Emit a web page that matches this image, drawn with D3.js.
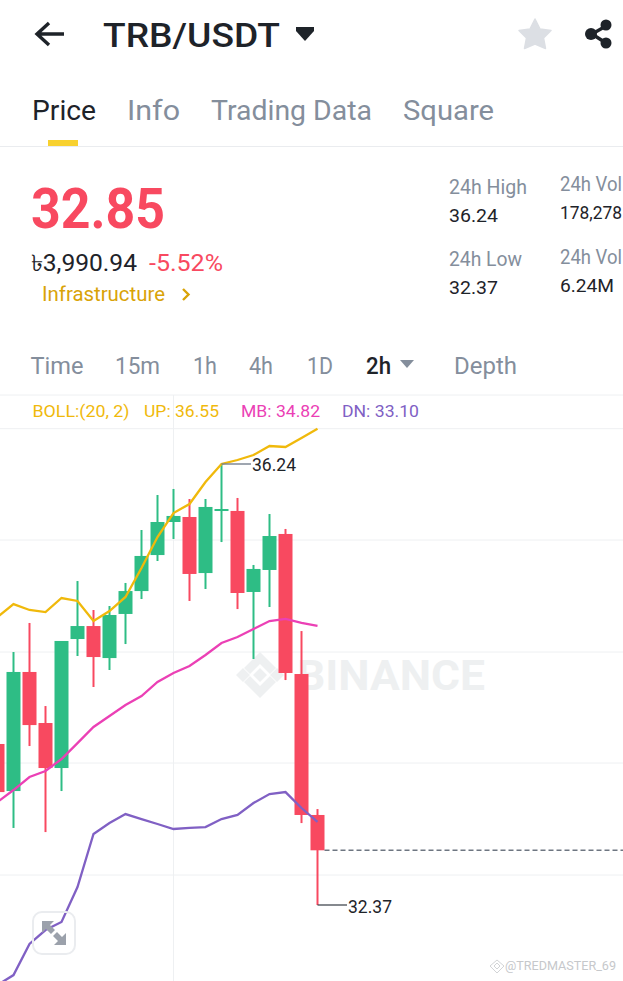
<!DOCTYPE html>
<html>
<head>
<meta charset="utf-8">
<script src="https://cdn.jsdelivr.net/npm/d3@7"></script>
<style>
  html, body { margin: 0; padding: 0; background: #fff; overflow: hidden; }
  svg { display: block; }
  text { font-family: Roboto, "Noto Sans", sans-serif; }
</style>
</head>
<body>
<div id="chart"></div>
<script>
// candles, oldest first
const opens  = [33.783, 33.370, 34.415, 33.967, 33.572, 34.704, 34.818, 34.537, 34.924, 35.125, 35.441, 35.731, 35.775, 35.283, 35.828, 35.828, 35.117, 35.310, 35.626, 34.397, 33.160];
const closes = [33.361, 34.415, 33.949, 33.572, 34.687, 34.818, 34.546, 34.915, 35.125, 35.433, 35.731, 35.784, 35.275, 35.863, 35.845, 35.108, 35.319, 35.608, 34.406, 33.160, 32.850];
const highs  = [33.900, 34.590, 34.845, 34.116, 34.687, 35.213, 34.959, 34.994, 35.196, 35.661, 35.968, 36.021, 35.933, 35.933, 36.240, 35.942, 35.354, 35.801, 35.670, 34.774, 33.212];
const lows   = [33.300, 33.046, 33.765, 33.010, 33.370, 34.555, 34.283, 34.432, 34.660, 35.055, 35.389, 35.582, 35.038, 35.143, 35.555, 34.967, 34.529, 34.985, 34.344, 33.089, 32.370];

// bollinger bands, one value per candle
const bollUp  = [34.897, 35.011, 34.959, 34.941, 35.064, 35.038, 34.862, 34.950, 35.073, 35.327, 35.599, 35.810, 35.889, 36.082, 36.240, 36.275, 36.319, 36.398, 36.389, 36.468, 36.550];
const bollMid = [33.274, 33.379, 33.493, 33.546, 33.651, 33.791, 33.932, 34.028, 34.125, 34.204, 34.327, 34.406, 34.467, 34.564, 34.669, 34.722, 34.792, 34.862, 34.880, 34.845, 34.820];
const bollDn  = [31.668, 31.755, 32.028, 32.150, 32.221, 32.528, 32.993, 33.089, 33.168, 33.124, 33.081, 33.037, 33.046, 33.054, 33.124, 33.160, 33.265, 33.344, 33.361, 33.221, 33.100];

const gridPrices = [36.55, 35.573, 34.59, 33.616, 32.633];
const crossSlot = 11;
const lastPrice = 32.85;
const highLabel = "36.24";
const lowLabel = "32.37";

const pageTabs = ["Price", "Info", "Trading Data", "Square"];
const rangeTabs = ["Time", "15m", "1h", "4h", "1D", "2h", "Depth"];
const legendItems = ["BOLL:(20, 2)", "UP: 36.55", "MB: 34.82", "DN: 33.10"];

const width = 623, height = 981;
const green = "#2EBD85", red = "#F84960", dark = "#1E2329", grey = "#848E9C";
const yellow = "#F0B90B", pink = "#EB40B5", purple = "#8060C4";

const svg = d3.select("#chart").append("svg")
    .attr("width", width)
    .attr("height", height);

// w is the drawn width of the text, so the substitute font keeps the original's extent
function label(x, y, str, size, fill, w, weight) {
    const t = svg.append("text")
        .attr("x", x)
        .attr("y", y)
        .attr("font-size", size)
        .attr("font-weight", weight || 400)
        .attr("fill", fill)
        .text(str);
    if (w) t.attr("textLength", w).attr("lengthAdjust", "spacingAndGlyphs");
    return t;
}

// Header
svg.append("path")
    .attr("d", "M64 34H38M49 23L37 34L49 45")
    .attr("fill", "none").attr("stroke", dark).attr("stroke-width", 3.4);
label(103, 47, "TRB/USDT", 34, dark, 177, 500);
svg.append("path").attr("d", "M296 27H314V31L305 41L296 31Z").attr("fill", dark);
svg.append("path")
    .attr("d", "M535 19L540 29L551 30.5L543.5 38L545.5 48.5L535 44L524.5 48.5L526.5 38L519 30.5L530 29Z")
    .attr("fill", "#DCDFE4").attr("stroke", "#DCDFE4").attr("stroke-linejoin", "round").attr("stroke-width", 1.5);
svg.append("path")
    .attr("d", "M606 26L592 34L606 43").attr("fill", "none").attr("stroke", dark).attr("stroke-width", 3.4);
[[606, 25, 5.5], [591, 34, 6], [606, 43, 5.5]].forEach(c =>
    svg.append("circle").attr("cx", c[0]).attr("cy", c[1]).attr("r", c[2]).attr("fill", dark));

// Page tabs
[[32, 64], [127, 53], [211, 161], [403, 91]].forEach((t, i) =>
    label(t[0], 120, pageTabs[i], 27, i === 0 ? dark : grey, t[1]));
svg.append("rect").attr("x", 48).attr("y", 140).attr("width", 30).attr("height", 6).attr("fill", "#F8D12F");
svg.append("line").attr("x1", 0).attr("x2", width).attr("y1", 146.5).attr("y2", 146.5).attr("stroke", "#EAECEF");

// Ticker block
label(31, 228, "32.85", 56, red, 134, 700);
label(31, 271, "৳3,990.94", 23, dark, 106);
label(149, 271, "-5.52%", 23, red, 74);
label(42, 301, "Infrastructure", 20, "#D9A307", 123);
svg.append("path").attr("d", "M183 289L188.5 294.5L183 300")
    .attr("fill", "none").attr("stroke", "#D9A307").attr("stroke-width", 2.4);

label(449, 194, "24h High", 20, grey, 78);
label(449, 222, "36.24", 19, dark, 49);
label(449, 266, "24h Low", 20, grey, 73);
label(449, 294, "32.37", 19, dark, 49);
label(560, 191, "24h Vol", 20, grey, 62);
label(560, 219, "178,278", 19, dark, 62);
label(560, 264, "24h Vol", 20, grey, 62);
label(560, 292, "6.24M", 19, dark, 54);

// Interval tabs
[[30.5, 53], [115, 45], [193, 24], [249, 24], [307, 26], [366, 25], [454, 63]].forEach((t, i) => {
    const on = rangeTabs[i] === "2h";
    label(t[0], 374, rangeTabs[i], 24, on ? dark : grey, t[1], on ? 500 : 400);
});
svg.append("path").attr("d", "M400 360H414L407 368Z").attr("fill", grey);

// Chart scales
const x = d3.scaleLinear().domain([0, opens.length - 1]).range([-2.5, 317.5]);
const y = d3.scaleLinear().domain([36.24, 32.37]).range([464, 905]);

// Grid
svg.append("line").attr("x1", 0).attr("x2", width).attr("y1", 395).attr("y2", 395).attr("stroke", "#EEF0F2");
svg.append("g").selectAll("line")
    .data(gridPrices)
    .join("line")
    .attr("x1", 0).attr("x2", width)
    .attr("y1", d => y(d)).attr("y2", d => y(d))
    .attr("stroke", "#EEF0F2");
svg.append("line")
    .attr("x1", x(crossSlot)).attr("x2", x(crossSlot))
    .attr("y1", 395).attr("y2", height)
    .attr("stroke", "#EEF0F2");

// Legend
[[32.5, 97], [144, 75], [241, 79], [342, 77]].forEach((t, i) =>
    label(t[0], 417, legendItems[i], 17, [yellow, yellow, pink, purple][i], t[1]));

// Watermark
const mark = svg.append("g").attr("fill", "#EEF0F1");
mark.append("path")
    .attr("d", "M260 652L276 668L270 674L260 664L250 674L244 668Z M260 698L244 682L250 676L260 686L270 676L276 682Z M236 675L243 668L250 675L243 682Z M270 675L277 668L284 675L277 682Z M260 668L267 675L260 682L253 675Z");
label(297, 690, "BINANCE", 42, "#EEF0F1", 188, 700);

// Candles
const idx = d3.range(opens.length);
const candles = svg.append("g");
candles.selectAll(".wick")
    .data(idx)
    .join("line")
    .attr("class", "wick")
    .attr("x1", i => x(i)).attr("x2", i => x(i))
    .attr("y1", i => y(highs[i])).attr("y2", i => y(lows[i]))
    .attr("stroke", i => closes[i] >= opens[i] ? green : red)
    .attr("stroke-width", 2);
candles.selectAll(".body")
    .data(idx)
    .join("rect")
    .attr("class", "body")
    .attr("x", i => x(i) - 7)
    .attr("width", 14)
    .attr("y", i => y(Math.max(opens[i], closes[i])))
    .attr("height", i => Math.max(2, Math.abs(y(opens[i]) - y(closes[i]))))
    .attr("fill", i => closes[i] >= opens[i] ? green : red);

// Bollinger lines
const bandLine = d3.line().x((d, i) => x(i)).y(d => y(d));
[[bollUp, yellow], [bollMid, pink], [bollDn, purple]].forEach(b =>
    svg.append("path")
        .attr("d", bandLine(b[0]))
        .attr("fill", "none")
        .attr("stroke", b[1])
        .attr("stroke-width", 2.3));

// Last price line
svg.append("line")
    .attr("x1", x(20) + 7).attr("x2", width)
    .attr("y1", y(lastPrice)).attr("y2", y(lastPrice))
    .attr("stroke", "#6E7681").attr("stroke-width", 1.4).attr("stroke-dasharray", "5 3");

// High / low markers
svg.append("line").attr("x1", x(14)).attr("x2", 251).attr("y1", y(36.24)).attr("y2", y(36.24)).attr("stroke", "#76808F").attr("stroke-width", 1.4);
label(252, 471, highLabel, 18, dark, 44);
svg.append("line").attr("x1", x(20)).attr("x2", 347).attr("y1", y(32.37)).attr("y2", y(32.37)).attr("stroke", "#333A42").attr("stroke-width", 1.2);
label(348, 913, lowLabel, 18, dark, 44);

// Expand button
svg.append("rect").attr("x", 33).attr("y", 912).attr("width", 42).attr("height", 42).attr("rx", 9)
    .attr("fill", "none").attr("stroke", "#EAECEF").attr("stroke-width", 2);
svg.append("path")
    .attr("d", "M42 921H54L50 925L55 930L51 934L46 929L42 933Z M66 945H54L58 941L53 936L57 932L62 937L66 933Z")
    .attr("fill", "#9BA1AB");

// Corner credit
label(505, 970, "@TREDMASTER_69", 12.5, "#C6C8CB", 111);
svg.append("path")
    .attr("d", "M497 960L504 966L497 973L490 966Z M497 963L500 966L497 969L494 966Z")
    .attr("fill", "none").attr("stroke", "#D2D4D6").attr("stroke-width", 1);
</script>
</body>
</html>
